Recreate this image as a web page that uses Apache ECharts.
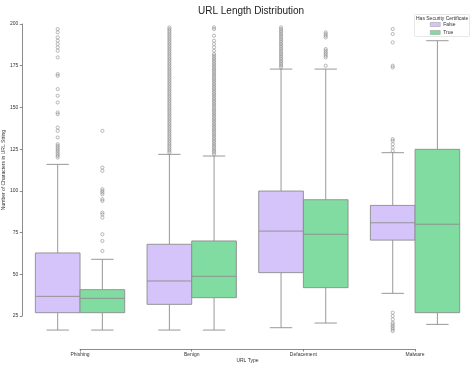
<!DOCTYPE html>
<html>
<head>
<meta charset="utf-8">
<script src="https://cdn.jsdelivr.net/npm/echarts@6/dist/echarts.min.js"></script>
<style>
html,body{margin:0;padding:0;background:#fff;}
#chart{width:474px;height:366px;}
</style>
</head>
<body>
<div id="chart"></div>
<script>
// ---- data ----
const categories = ['Phishing', 'Benign', 'Defacement', 'Malware'];
const hueNames = ['False', 'True'];
const yTicks = [25, 50, 75, 100, 125, 150, 175, 200];
// [min whisker, q1, median, q3, max whisker]
const falseStats = [
  [16.6, 27, 36.8, 62.8, 115.9],
  [16.6, 32, 46, 68, 121.9],
  [18, 51, 75.9, 99.9, 173],
  [38.6, 70.5, 80.9, 91.3, 122.9]
];
const trueStats = [
  [16.6, 27, 35.6, 40.8, 59],
  [16.6, 36, 48.8, 70, 120.9],
  [20.8, 42, 74, 94.7, 173],
  [20, 27, 80, 124.9, 190]
];
const falseOutliers = [
  [197,195,192,190,188,186,184,180,170,169,161,157,153,147,146,138,136,132,128,127,126,125,124,123,122,121,120],
  [123,124,125,126,127,128,129,130,131,132,133,134,135,136,137,138,139,140,141,142,143,144,145,146,147,148,149,150,
   151,152,153,154,155,156,157,158,159,160,161,162,163,164,165,166,167,168,169,170,171,172,173,174,175,176,177,178,
   179,180,181,182,183,184,185,186,187,188,189,190,191,192,193,194,195,196,197,198],
  [174,175,176,177,178,179,180,181,182,183,184,185,186,187,188,189,190,191,192,193,194,195,196,197,198],
  [197,194,189,175,174,131,130,128,126,124,27,25,23,21,20,19,18,17,16]
];
const trueOutliers = [
  [136,114,112,101,100,99,98,95,94,87,86,84,74,70,64],
  [198,197,193,190,188,186,184,182,181,180,179,178,177,176,175,174,173,172,171,170,169,168,167,166,165,164,163,162,
   161,160,159,158,157,156,155,154,153,152,151,150,149,148,147,146,145,144,143,142,141,140,139,138,137,136,135,134,
   133,132,131,130,129,128,127,126,125,124,123,122],
  [195,194,193,192,185,184,183,182,181,180,175],
  []
];

// ---- styles ----
const fillColors = ['#d5c4fa', '#80dca0'];
const lineColor = '#8c8c8c';
const hueOffset = [-0.2, 0.2];

function boxData(stats) {
  return stats.map((s, i) => [i].concat(s));
}
function outlierData(outs) {
  const arr = [];
  outs.forEach((list, i) => list.forEach(v => arr.push([i, v])));
  return arr;
}

function makeBoxRender(h) {
  return function (params, api) {
    const cat = api.value(0);
    const bw = api.size([1, 0])[0];
    const boxW = bw * 0.4;
    const cx = api.coord([cat, 0])[0] + hueOffset[h] * bw;
    const yMin = api.coord([cat, api.value(1)])[1];
    const yQ1 = api.coord([cat, api.value(2)])[1];
    const yMed = api.coord([cat, api.value(3)])[1];
    const yQ3 = api.coord([cat, api.value(4)])[1];
    const yMax = api.coord([cat, api.value(5)])[1];
    const capHalf = boxW * 0.25;
    const ls = { stroke: lineColor, lineWidth: 0.9 };
    return {
      type: 'group',
      children: [
        { type: 'line', shape: { x1: cx, y1: yQ3, x2: cx, y2: yMax }, style: ls },
        { type: 'line', shape: { x1: cx, y1: yQ1, x2: cx, y2: yMin }, style: ls },
        { type: 'line', shape: { x1: cx - capHalf, y1: yMax, x2: cx + capHalf, y2: yMax }, style: ls },
        { type: 'line', shape: { x1: cx - capHalf, y1: yMin, x2: cx + capHalf, y2: yMin }, style: ls },
        { type: 'rect', shape: { x: cx - boxW / 2, y: yQ3, width: boxW, height: yQ1 - yQ3 },
          style: { fill: fillColors[h], stroke: lineColor, lineWidth: 0.9 } },
        { type: 'line', shape: { x1: cx - boxW / 2, y1: yMed, x2: cx + boxW / 2, y2: yMed }, style: ls }
      ]
    };
  };
}
function makeOutRender(h) {
  return function (params, api) {
    const cat = api.value(0);
    const bw = api.size([1, 0])[0];
    const p = api.coord([cat, api.value(1)]);
    return {
      type: 'circle',
      shape: { cx: p[0] + hueOffset[h] * bw, cy: p[1], r: 1.6 },
      style: { fill: 'none', stroke: '#8c8c8c', lineWidth: 0.6 }
    };
  };
}

const chart = echarts.init(document.getElementById('chart'), null, { renderer: 'canvas' });
const axisGray = '#6f6f6f';
const labelFont = { fontFamily: 'Liberation Sans, Arial, sans-serif', fontSize: 5, color: '#333' };

const option = {
  backgroundColor: '#fff',
  animation: false,
  title: [
    { text: 'URL Length Distribution', left: 193, top: 1,
      textStyle: { fontFamily: 'Liberation Sans, Arial, sans-serif', fontSize: 10, fontWeight: 'normal', color: '#222' } },
    { text: 'Has Security Certificate', left: 414, top: 14, padding: [2, 2, 16, 2], z: 1,
      borderColor: '#d8d8d8', borderWidth: 0.6, backgroundColor: '#fff', borderRadius: 1,
      textStyle: { fontFamily: 'Liberation Sans, Arial, sans-serif', fontSize: 5, fontWeight: 'normal', color: '#333' } }
  ],
  legend: {
    data: hueNames, z: 10,
    left: 430, top: 22, orient: 'vertical',
    icon: 'rect', itemWidth: 10, itemHeight: 4, itemGap: 3, padding: 0,
    textStyle: { fontFamily: 'Liberation Sans, Arial, sans-serif', fontSize: 5, color: '#333', padding: [0, 0, 0, -2] },
    itemStyle: { borderColor: '#999', borderWidth: 0.5 }
  },
  grid: [
    { left: 24.2, width: 446.7, top: 20.7, height: 323.7 },   // data
    { left: 20, width: 10, top: 24, height: 292 },             // y-axis display
    { left: 80, width: 335, top: 300, height: 49 }             // x-axis display
  ],
  xAxis: [
    { gridIndex: 0, type: 'category', data: categories, show: false },
    { gridIndex: 1, type: 'value', show: false },
    { gridIndex: 2, type: 'category', data: categories, boundaryGap: false,
      axisLine: { show: true, lineStyle: { color: axisGray, width: 0.8 } },
      axisTick: { show: true, length: 2.5, lineStyle: { color: axisGray, width: 0.8 } },
      axisLabel: Object.assign({ margin: 3 }, labelFont),
      splitLine: { show: false },
      name: 'URL Type', nameLocation: 'middle', nameGap: 9,
      nameTextStyle: { fontFamily: 'Liberation Sans, Arial, sans-serif', fontSize: 5, color: '#333' } }
  ],
  yAxis: [
    { gridIndex: 0, type: 'value', min: 8, max: 202, show: false },
    { gridIndex: 1, type: 'value', min: yTicks[0], max: yTicks[yTicks.length - 1], interval: 25,
      axisLine: { show: true, lineStyle: { color: axisGray, width: 0.8 } },
      axisTick: { show: true, length: 2.5, lineStyle: { color: axisGray, width: 0.8 } },
      axisLabel: Object.assign({ margin: 4 }, labelFont),
      splitLine: { show: false },
      name: 'Number of Characters in URL String', nameLocation: 'middle', nameGap: 11.5, nameRotate: 90,
      nameTextStyle: { fontFamily: 'Liberation Sans, Arial, sans-serif', fontSize: 5, color: '#333' } },
    { gridIndex: 2, type: 'value', show: false }
  ],
  series: [
    { name: 'False', type: 'custom', xAxisIndex: 0, yAxisIndex: 0,
      renderItem: makeBoxRender(0), encode: { x: 0, y: [1, 2, 3, 4, 5] },
      itemStyle: { color: fillColors[0] }, data: boxData(falseStats) },
    { name: 'True', type: 'custom', xAxisIndex: 0, yAxisIndex: 0,
      renderItem: makeBoxRender(1), encode: { x: 0, y: [1, 2, 3, 4, 5] },
      itemStyle: { color: fillColors[1] }, data: boxData(trueStats) },
    { name: 'False outliers', type: 'custom', xAxisIndex: 0, yAxisIndex: 0,
      renderItem: makeOutRender(0), encode: { x: 0, y: 1 }, data: outlierData(falseOutliers) },
    { name: 'True outliers', type: 'custom', xAxisIndex: 0, yAxisIndex: 0,
      renderItem: makeOutRender(1), encode: { x: 0, y: 1 }, data: outlierData(trueOutliers) }
  ]
};
chart.setOption(option);
</script>
</body>
</html>
